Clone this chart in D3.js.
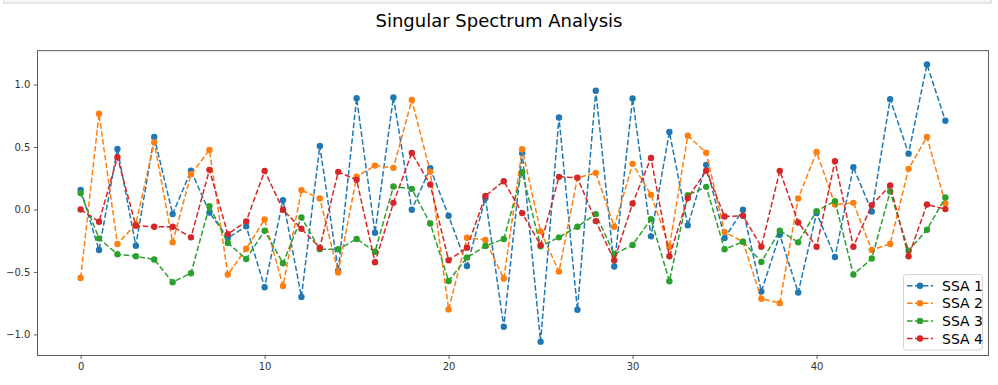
<!DOCTYPE html>
<html>
<head>
<meta charset="utf-8">
<script src="https://cdn.jsdelivr.net/npm/d3@7"></script>
<style>
  html, body { margin: 0; padding: 0; background: #fff; }
  svg { display: block; font-family: "DejaVu Sans", sans-serif; }
</style>
</head>
<body>
<svg id="chart" width="998" height="385"></svg>
<script>
const title = "Singular Spectrum Analysis";
const seriesNames = ["SSA 1", "SSA 2", "SSA 3", "SSA 4"];
const colors = ["#1f77b4", "#ff7f0e", "#2ca02c", "#d62728"];
const xTicks = [0, 10, 20, 30, 40];
const yTicks = [-1.0, -0.5, 0.0, 0.5, 1.0];

const ssa1 = [0.157, -0.324, 0.484, -0.29, 0.58, -0.037, 0.311, -0.024, -0.229, -0.135,
  -0.622, 0.075, -0.7, 0.508, -0.489, 0.891, -0.186, 0.897, -0.002, 0.33,
  -0.05, -0.452, 0.091, -0.939, 0.45, -1.058, 0.737, -0.803, 0.95, -0.457,
  0.889, -0.215, 0.62, -0.127, 0.357, -0.229, -0.002, -0.657, -0.202, -0.665,
  -0.029, -0.38, 0.338, -0.016, 0.883, 0.447, 1.16, 0.71];
const ssa2 = [-0.548, 0.766, -0.276, -0.117, 0.538, -0.263, 0.282, 0.476, -0.521, -0.314,
  -0.08, -0.612, 0.155, 0.088, -0.505, 0.263, 0.351, 0.333, 0.876, 0.301,
  -0.8, -0.226, -0.244, -0.553, 0.482, -0.175, -0.497, 0.253, 0.293, -0.138,
  0.365, 0.117, -0.3, 0.591, 0.455, -0.181, -0.258, -0.715, -0.75, 0.088,
  0.46, 0.04, 0.053, -0.324, -0.276, 0.325, 0.58, 0.048];
const ssa3 = [0.131, -0.231, -0.359, -0.375, -0.401, -0.582, -0.51, 0.027, -0.268, -0.396,
  -0.17, -0.431, -0.064, -0.319, -0.319, -0.236, -0.338, 0.184, 0.165, -0.112,
  -0.572, -0.385, -0.292, -0.236, 0.298, -0.295, -0.223, -0.138, -0.037, -0.359,
  -0.284, -0.077, -0.574, 0.115, 0.181, -0.319, -0.258, -0.42, -0.17, -0.263,
  -0.013, 0.067, -0.521, -0.393, 0.144, -0.33, -0.162, 0.096];
const ssa4 = [0.0, -0.098, 0.418, -0.13, -0.138, -0.138, -0.223, 0.317, -0.197, -0.096,
  0.309, -0.002, -0.154, -0.306, 0.301, 0.237, -0.423, 0.053, 0.452, 0.2,
  -0.407, -0.306, 0.109, 0.226, -0.029, -0.285, 0.261, 0.255, -0.093, -0.407,
  0.048, 0.413, -0.375, 0.091, 0.311, -0.056, -0.05, -0.298, 0.309, -0.104,
  -0.298, 0.386, -0.298, 0.035, 0.192, -0.375, 0.04, 0.003];
const seriesValues = [ssa1, ssa2, ssa3, ssa4];

const svg = d3.select("#chart");
const W = 998, H = 385;
const plot = { left: 37.4, right: 988.6, top: 50.7, bottom: 355.5 };

// notebook frame line at top
svg.append("rect").attr("x", 4).attr("y", -2).attr("width", 987).attr("height", 5)
  .attr("fill", "#f7f7f7").attr("stroke", "#cfcfcf").attr("stroke-width", 1);

const n = ssa1.length;
const allVals = seriesValues.flat();
const yMin = d3.min(allVals), yMax = d3.max(allVals);
const yPad = (yMax - yMin) * 0.05;
const xPad = (n - 1) * 0.05;

const x = d3.scaleLinear().domain([-xPad, n - 1 + xPad]).range([plot.left, plot.right]);
const y = d3.scaleLinear().domain([yMin - yPad, yMax + yPad]).range([plot.bottom, plot.top]);

// title
svg.append("text").attr("x", 499).attr("y", 27)
  .attr("text-anchor", "middle").attr("font-size", "18px").attr("fill", "#000")
  .text(title);

// axes
const fmt = d => d3.format(".1f")(d).replace("-", "\u2212");
const xAxis = d3.axisBottom(x).tickValues(xTicks).tickSize(3.5).tickPadding(3.5).tickFormat(d3.format("d"));
const yAxis = d3.axisLeft(y).tickValues(yTicks).tickSize(3.5).tickPadding(3.5).tickFormat(fmt);

const gx = svg.append("g").attr("transform", `translate(0,${plot.bottom})`).call(xAxis);
const gy = svg.append("g").attr("transform", `translate(${plot.left},0)`).call(yAxis);
[gx, gy].forEach(g => {
  g.select(".domain").remove();
  g.selectAll(".tick line").attr("stroke", "#333").attr("stroke-width", 0.8);
  g.selectAll(".tick text").attr("font-size", "10px").attr("fill", "#333")
    .attr("font-family", "DejaVu Sans, sans-serif");
});

// lines and markers
const line = d3.line().x((d, i) => x(i)).y(d => y(d));
seriesValues.forEach((vals, k) => {
  const g = svg.append("g");
  g.append("path").datum(vals).attr("d", line)
    .attr("fill", "none").attr("stroke", colors[k]).attr("stroke-width", 1.5)
    .attr("stroke-dasharray", "5.55,2.4");
  g.selectAll("circle").data(vals).join("circle")
    .attr("cx", (d, i) => x(i)).attr("cy", d => y(d)).attr("r", 3.2)
    .attr("fill", colors[k]);
});

// frame
svg.append("rect").attr("x", plot.left).attr("y", plot.top)
  .attr("width", plot.right - plot.left).attr("height", plot.bottom - plot.top)
  .attr("fill", "none").attr("stroke", "#333").attr("stroke-width", 0.8);

// legend
const lg = svg.append("g");
lg.append("rect").attr("x", 903.5).attr("y", 274.5).attr("width", 79).attr("height", 75.5)
  .attr("rx", 2.5).attr("fill", "#fff").attr("fill-opacity", 0.8)
  .attr("stroke", "#d6d6d6").attr("stroke-width", 1);
seriesNames.forEach((name, k) => {
  const cy = 285.7 + k * 17.6;
  lg.append("line").attr("x1", 907).attr("x2", 933).attr("y1", cy).attr("y2", cy)
    .attr("stroke", colors[k]).attr("stroke-width", 1.5).attr("stroke-dasharray", "5.55,2.4");
  lg.append("circle").attr("cx", 920).attr("cy", cy).attr("r", 3.2).attr("fill", colors[k]);
  lg.append("text").attr("x", 942).attr("y", cy + 5).attr("font-size", "14px").attr("fill", "#000")
    .text(name);
});
</script>
</body>
</html>
